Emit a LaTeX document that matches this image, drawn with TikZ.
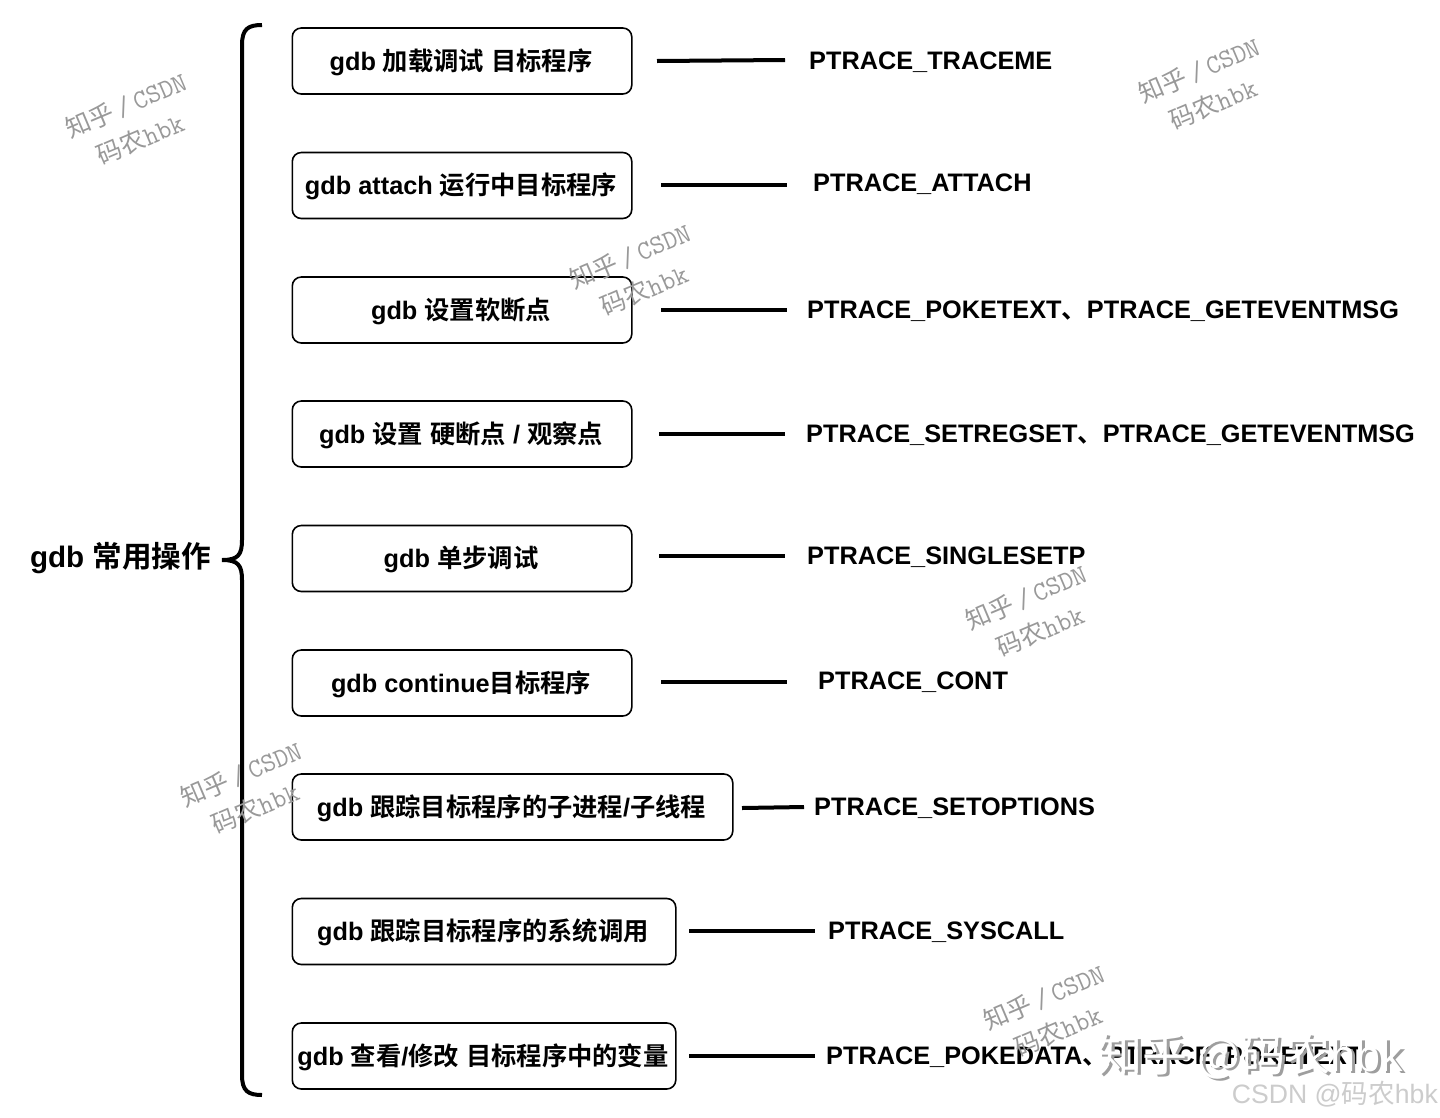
\documentclass[tikz,border=0pt]{standalone}
\usepackage{fontspec}
\setmainfont{Liberation Sans}
\newfontfamily\cjk{Noto Sans CJK SC}[BoldFont=* Bold]
\newfontfamily\cjklight{Noto Sans CJK SC}
\newcommand{\zh}[1]{{\cjk\bfseries #1}}
\newcommand{\wm}[2]{\node[wmark] (#1) at (#2) {{\cjklight\fontsize{25}{37}\selectfont 知乎}{\ttfamily\,/\,CSDN}\\{\cjklight\fontsize{25}{37}\selectfont 码农}{\ttfamily hbk}};}
\tikzset{
  opbox/.style={draw=black,line width=1.6pt,rounded corners=9pt,minimum height=66pt,inner sep=0pt,anchor=west},
  boxtext/.style={font=\fontsize{25.3}{30}\selectfont\bfseries,inner sep=0pt,anchor=center},
  calltext/.style={font=\fontsize{25.3}{30}\selectfont\bfseries,inner sep=0pt,anchor=base west},
  link/.style={line width=4pt,black},
  wmark/.style={font=\fontsize{27}{37}\selectfont,text=black!40,rotate=23,align=center,inner sep=0pt}
}
\begin{document}
\begin{tikzpicture}[x=1pt,y=-1pt]
\useasboundingbox[fill=white] (0,0) rectangle (1440,1117);
% boxes
\node[opbox,minimum width=339.5pt] (b1) at (291.5,61) {};
\node[opbox,minimum width=339.5pt] (b2) at (291.5,185.5) {};
\node[opbox,minimum width=339.5pt] (b3) at (291.5,310) {};
\node[opbox,minimum width=339.5pt] (b4) at (291.5,434) {};
\node[opbox,minimum width=339.5pt] (b5) at (291.5,558.5) {};
\node[opbox,minimum width=339.5pt] (b6) at (291.5,683) {};
\node[opbox,minimum width=440.5pt] (b7) at (291.5,807) {};
\node[opbox,minimum width=383.5pt] (b8) at (291.5,931.5) {};
\node[opbox,minimum width=383.5pt] (b9) at (291.5,1056) {};
% box texts
\node[boxtext] (t1) at (461,62) {gdb \zh{加载调试} \zh{目标程序}};
\node[boxtext] (t2) at (461,186) {gdb attach \zh{运行中目标程序}};
\node[boxtext] (t3) at (461,311) {gdb \zh{设置软断点}};
\node[boxtext] (t4) at (461,435) {gdb \zh{设置} \zh{硬断点} / \zh{观察点}};
\node[boxtext] (t5) at (461,559) {gdb \zh{单步调试}};
\node[boxtext] (t6) at (461,684) {gdb continue\zh{目标程序}};
\node[boxtext] (t7) at (511.5,808) {gdb \zh{跟踪目标程序的子进程}/\zh{子线程}};
\node[boxtext] (t8) at (483,932) {gdb \zh{跟踪目标程序的系统调用}};
\node[boxtext] (t9) at (483,1057) {gdb \zh{查看}/\zh{修改} \zh{目标程序中的变量}};
\node[boxtext,font=\fontsize{29.6}{33}\selectfont\bfseries] (root) at (120.5,558) {gdb \zh{常用操作}};
% call names
\node[calltext] (c1) at (809,69) {PTRACE\_TRACEME};
\node[calltext] (c2) at (813,191.5) {PTRACE\_ATTACH};
\node[calltext] (c3) at (807,318) {PTRACE\_POKETEXT\zh{、}PTRACE\_GETEVENTMSG};
\node[calltext] (c4) at (806,442) {PTRACE\_SETREGSET\zh{、}PTRACE\_GETEVENTMSG};
\node[calltext] (c5) at (807,564.5) {PTRACE\_SINGLESETP};
\node[calltext] (c6) at (818,689) {PTRACE\_CONT};
\node[calltext] (c7) at (814,815.5) {PTRACE\_SETOPTIONS};
\node[calltext] (c8) at (828,939.5) {PTRACE\_SYSCALL};
\node[calltext] (c9) at (826,1064) {PTRACE\_POKEDATA\zh{、}PTRACE\_POKETEXT};
% connector ends
\coordinate (a1) at (657,61); \coordinate (e1) at (785,60);
\coordinate (a2) at (661,185); \coordinate (e2) at (787,185);
\coordinate (a3) at (661,310); \coordinate (e3) at (787,310);
\coordinate (a4) at (659,434); \coordinate (e4) at (785,434);
\coordinate (a5) at (659,556); \coordinate (e5) at (785,556);
\coordinate (a6) at (661,682); \coordinate (e6) at (787,682);
\coordinate (a7) at (742,808); \coordinate (e7) at (804,807);
\coordinate (a8) at (689,931); \coordinate (e8) at (815,931);
\coordinate (a9) at (689,1056); \coordinate (e9) at (815,1056);
\foreach \i in {1,...,9} {\draw[link] (a\i) -- (e\i);}
% brace
\coordinate (bt) at (262,25); \coordinate (bb) at (262,1095); \coordinate (bm) at (222,560);
\draw[line width=4pt,black] (bt) .. controls (248,25) and (242,29) .. (242,45)
  -- (242,540) .. controls (242,555) and (238,560) .. (bm)
  .. controls (238,560) and (242,565) .. (242,580)
  -- (242,1075) .. controls (242,1091) and (248,1095) .. (bb);
% watermarks
\wm{w1}{133,122}
\wm{w2}{1206,87}
\wm{w3}{637,273}
\wm{w4}{1033,614}
\wm{w5}{248,791}
\wm{w6}{1051,1014}
% bottom marks
\node[inner sep=0pt,font=\fontsize{45}{50}\selectfont,text=black!38,anchor=center] (z0) at (1253,1058) {{\cjk 知乎 @码农}hbk};
\node[inner sep=0pt,font=\fontsize{45}{50}\selectfont,text=white,anchor=center] (z1) at (1250.5,1056) {{\cjk 知乎 @码农}hbk};
\node[inner sep=0pt,font=\fontsize{26.6}{32}\selectfont,text=black!20,anchor=east] (z2) at (1438,1094) {CSDN @{\cjk 码农}hbk};
\end{tikzpicture}
\end{document}
